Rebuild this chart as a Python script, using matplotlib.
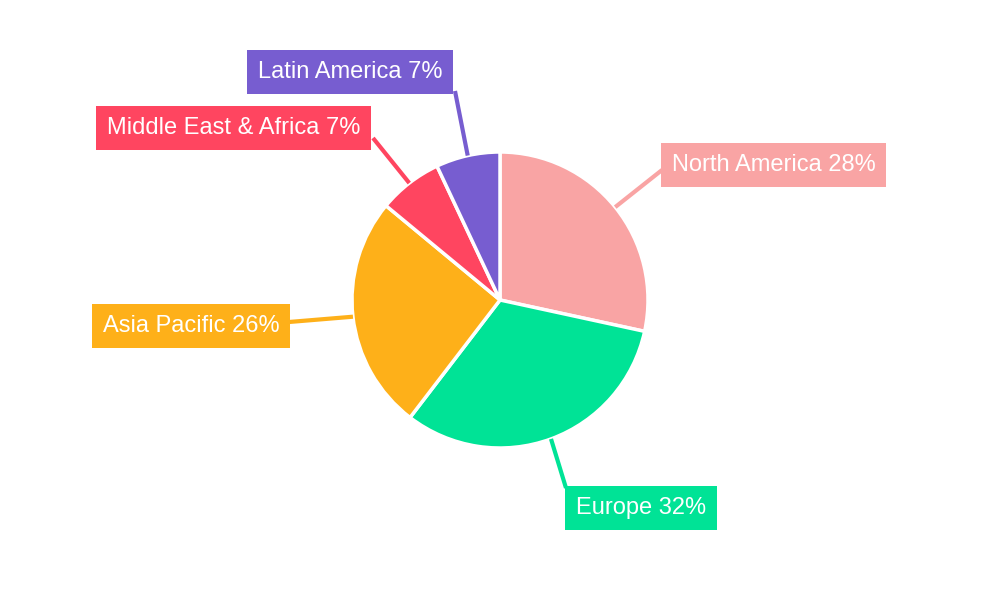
import matplotlib
matplotlib.use("Agg")
import matplotlib.pyplot as plt
import numpy as np

regions = ["North America", "Europe", "Asia Pacific", "Middle East & Africa", "Latin America"]
shares = [28.4, 32, 25.6, 7, 7]
labels_pct = [28, 32, 26, 7, 7]
colors = ["#F9A4A4", "#00E396", "#FEB019", "#FF4560", "#775DD0"]
# label box text anchors (pixel coords, y from top) and line end points
label_pos = [(672, 165), (576, 508), (103, 326), (107, 128), (258, 72)]
line_end = [(662, 170), (566, 488), (289, 322), (373, 138), (455, 91)]

fig = plt.figure(figsize=(10, 6), dpi=100)
ax = fig.add_axes([0, 0, 1, 1])
cx, cy, r = 500, 300, 148
wedges, _ = ax.pie(shares, colors=colors, startangle=90, counterclock=False, center=(cx, cy),
                   radius=r, wedgeprops=dict(edgecolor="white", linewidth=2.5), frame=True)
ax.set_xlim(0, 1000); ax.set_ylim(0, 600); ax.set_aspect("equal"); ax.axis("off")
for w, name, v, c, lp, le in zip(wedges, regions, labels_pct, colors, label_pos, line_end):
    mid = np.deg2rad((w.theta1 + w.theta2) / 2)
    sx, sy = cx + r * np.cos(mid), cy + r * np.sin(mid)
    ax.plot([sx, le[0]], [sy, 600 - le[1]], color=c, lw=3, solid_capstyle="butt", zorder=1)
    ax.text(lp[0], 600 - lp[1], f"{name} {v}%", fontsize=17,
            family=["Liberation Sans", "DejaVu Sans"], color="white", va="center", ha="left",
            bbox=dict(boxstyle="square,pad=0.45", fc=c, ec="none"), zorder=3)
fig.savefig("out.png", dpi=100)
